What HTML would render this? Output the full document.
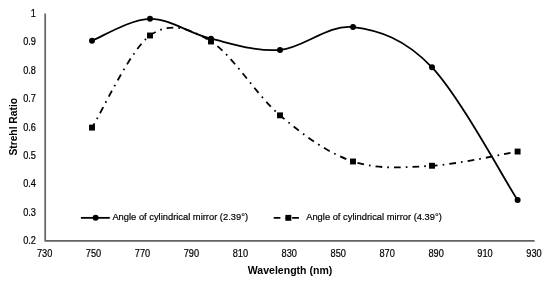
<!DOCTYPE html>
<html lang="en"><head><meta charset="utf-8"><title>Strehl Ratio vs Wavelength</title>
<style>
html,body{margin:0;padding:0;background:#fff;}
body{width:550px;height:282px;overflow:hidden;}
svg{display:block;}
text{font-family:"Liberation Sans", sans-serif;fill:#000;}
.t{font-size:10.2px;stroke:#000;stroke-width:0.2px;}
.l{font-size:9.7px;stroke:#000;stroke-width:0.2px;}
.b{font-weight:bold;font-size:11.8px;fill:#000;}
</style></head><body>
<svg width="550" height="282" viewBox="0 0 550 282">
<rect width="550" height="282" fill="#fff"/>

<path d="M45.20 13.60 V240.85 H534.60" fill="none" stroke="#636363" stroke-width="1.7"/>
<text class="t" transform="translate(36 17.00) scale(0.905 1)" text-anchor="end">1</text>
<text class="t" transform="translate(36 45.41) scale(0.905 1)" text-anchor="end">0.9</text>
<text class="t" transform="translate(36 73.81) scale(0.905 1)" text-anchor="end">0.8</text>
<text class="t" transform="translate(36 102.22) scale(0.905 1)" text-anchor="end">0.7</text>
<text class="t" transform="translate(36 130.62) scale(0.905 1)" text-anchor="end">0.6</text>
<text class="t" transform="translate(36 159.03) scale(0.905 1)" text-anchor="end">0.5</text>
<text class="t" transform="translate(36 187.44) scale(0.905 1)" text-anchor="end">0.4</text>
<text class="t" transform="translate(36 215.84) scale(0.905 1)" text-anchor="end">0.3</text>
<text class="t" transform="translate(36 244.25) scale(0.905 1)" text-anchor="end">0.2</text>
<text class="t" transform="translate(44.60 256.7) scale(0.905 1)" text-anchor="middle">730</text>
<text class="t" transform="translate(93.54 256.7) scale(0.905 1)" text-anchor="middle">750</text>
<text class="t" transform="translate(142.48 256.7) scale(0.905 1)" text-anchor="middle">770</text>
<text class="t" transform="translate(191.42 256.7) scale(0.905 1)" text-anchor="middle">790</text>
<text class="t" transform="translate(240.36 256.7) scale(0.905 1)" text-anchor="middle">810</text>
<text class="t" transform="translate(289.30 256.7) scale(0.905 1)" text-anchor="middle">830</text>
<text class="t" transform="translate(338.24 256.7) scale(0.905 1)" text-anchor="middle">850</text>
<text class="t" transform="translate(387.18 256.7) scale(0.905 1)" text-anchor="middle">870</text>
<text class="t" transform="translate(436.12 256.7) scale(0.905 1)" text-anchor="middle">890</text>
<text class="t" transform="translate(485.06 256.7) scale(0.905 1)" text-anchor="middle">910</text>
<text class="t" transform="translate(534.00 256.7) scale(0.905 1)" text-anchor="middle">930</text>
<text class="b" x="247.8" y="274.4" textLength="84.5" lengthAdjust="spacingAndGlyphs">Wavelength (nm)</text>
<text class="b" transform="translate(17 155.6) rotate(-90)" textLength="57.6" lengthAdjust="spacingAndGlyphs">Strehl Ratio</text>
<path d="M92.00 40.70 C101.67 37.05 130.17 19.13 150.00 18.80 C169.83 18.47 189.33 33.52 211.00 38.70 C232.67 43.88 256.33 51.84 280.00 49.90 C303.67 47.96 327.67 24.14 353.00 27.05 C378.33 29.96 404.57 38.51 432.00 67.35 C459.43 96.19 503.33 177.97 517.60 200.10" fill="none" stroke="#000" stroke-width="1.8" stroke-linecap="round"/>
<path d="M92.00 127.60 C101.67 112.25 130.17 49.85 150.00 35.50 C169.83 21.15 189.33 28.19 211.00 41.50 C232.67 54.81 256.33 95.35 280.00 115.35 C303.67 135.35 327.67 153.10 353.00 161.50 C378.33 169.90 404.57 167.41 432.00 165.75 C459.43 164.09 503.33 153.92 517.60 151.55" fill="none" stroke="#000" stroke-width="1.8" stroke-dasharray="6.72 5.04 1.68 5.04" stroke-dashoffset="1.7"/>
<circle cx="92.00" cy="40.70" r="3" fill="#000"/>
<circle cx="150.00" cy="18.80" r="3" fill="#000"/>
<circle cx="211.00" cy="38.70" r="3" fill="#000"/>
<circle cx="280.00" cy="49.90" r="3" fill="#000"/>
<circle cx="353.00" cy="27.05" r="3" fill="#000"/>
<circle cx="432.00" cy="67.35" r="3" fill="#000"/>
<circle cx="517.60" cy="200.10" r="3" fill="#000"/>
<rect x="89.05" y="124.65" width="5.9" height="5.9" fill="#000"/>
<rect x="147.05" y="32.55" width="5.9" height="5.9" fill="#000"/>
<rect x="208.05" y="38.55" width="5.9" height="5.9" fill="#000"/>
<rect x="277.05" y="112.40" width="5.9" height="5.9" fill="#000"/>
<rect x="350.05" y="158.55" width="5.9" height="5.9" fill="#000"/>
<rect x="429.05" y="162.80" width="5.9" height="5.9" fill="#000"/>
<rect x="514.65" y="148.60" width="5.9" height="5.9" fill="#000"/>
<path d="M80.9 217.85 H109.8" stroke="#000" stroke-width="1.8"/>
<circle cx="95.6" cy="217.85" r="3" fill="#000"/>
<text class="l" x="112.4" y="220.3" textLength="135.6" lengthAdjust="spacingAndGlyphs">Angle of cylindrical mirror (2.39°)</text>
<path d="M273.7 217.85 H299.1" stroke="#000" stroke-width="1.8" stroke-dasharray="6.72 5.04 1.68 5.04"/>
<rect x="285.4" y="214.9" width="5.9" height="5.9" fill="#000"/>
<text class="l" x="306.2" y="220.3" textLength="135.6" lengthAdjust="spacingAndGlyphs">Angle of cylindrical mirror (4.39°)</text>
</svg></body></html>
